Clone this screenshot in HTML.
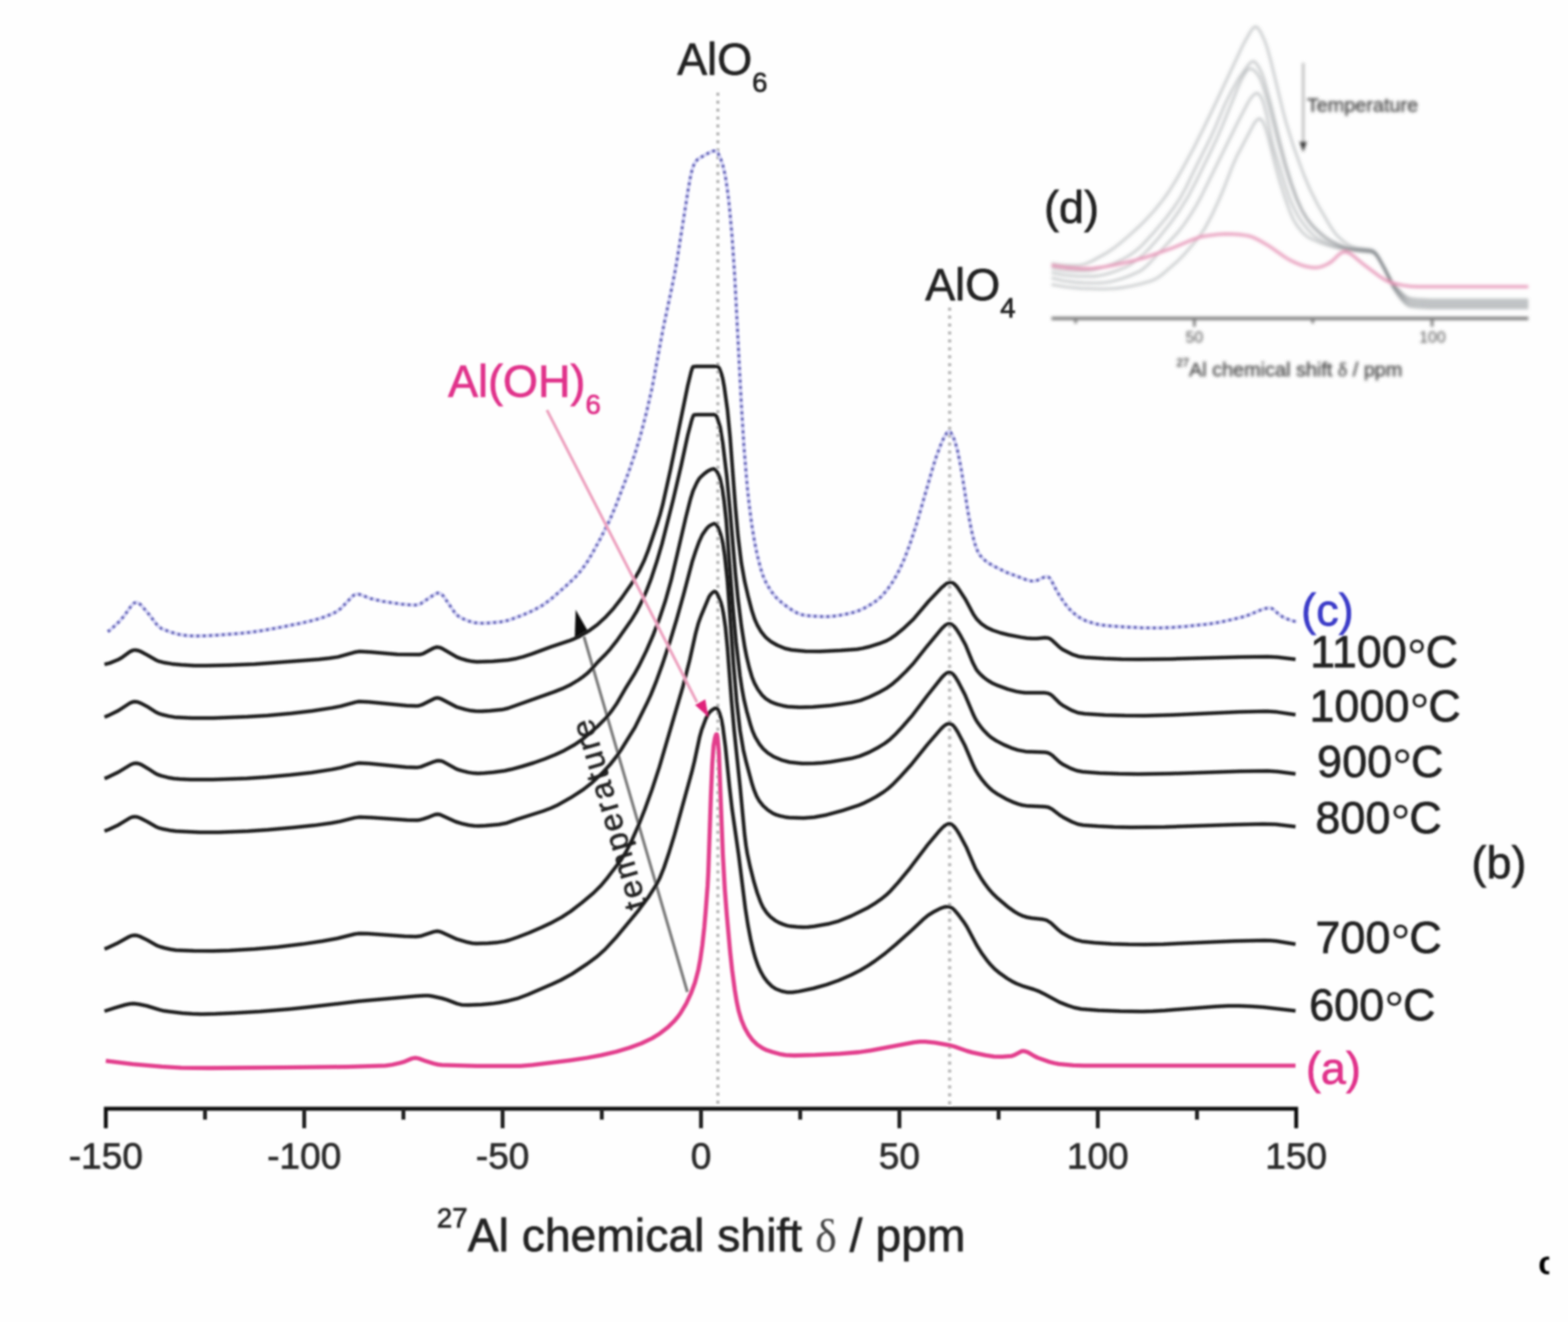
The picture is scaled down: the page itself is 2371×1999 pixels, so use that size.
<!DOCTYPE html>
<html lang="en"><head><meta charset="utf-8"><title>27Al MAS NMR spectra</title>
<style>
html,body{margin:0;padding:0;background:#fefefe;}
body{width:2371px;height:1999px;overflow:hidden;}
svg{display:block;font-family:'Liberation Sans', Arial, sans-serif;}
.blk{fill:none;stroke:#1c1c1c;stroke-width:5.5;stroke-linejoin:round;stroke-linecap:butt;}
.pnk{fill:none;stroke:#e23c8c;stroke-width:6.3;stroke-linejoin:round;}
.blu{fill:none;stroke:#6e6ebe;stroke-width:4.8;stroke-dasharray:4.7 4.9;stroke-linejoin:round;}
.vdot{fill:none;stroke:#bcbcbc;stroke-width:5;stroke-dasharray:5 7;}
.ig{fill:none;stroke:rgba(95,100,105,0.36);stroke-width:3.6;stroke-linejoin:round;}
.t{fill:#222;stroke:#222;stroke-width:1.0;font-size:68px;}
.tk{fill:#2a2a2a;stroke:#2a2a2a;stroke-width:1.0;font-size:56px;text-anchor:middle;}
</style></head><body>
<svg width="2371" height="1999" viewBox="0 0 2371 1999">
<defs><filter id="soft" x="-2%" y="-2%" width="104%" height="104%"><feGaussianBlur stdDeviation="1.6"/></filter>
<filter id="soft2" x="-2%" y="-2%" width="104%" height="104%"><feGaussianBlur stdDeviation="2.4"/></filter></defs>
<rect width="2371" height="1999" fill="#fefefe"/>
<g filter="url(#soft)">
<path class="vdot" d="M1085.5,140 V1670"/>
<path class="vdot" d="M1436,465 V1670"/>
<path d="M162.7,955.0 L165.7,953.3 L168.7,950.8 L180.7,939.4 L187.7,931.4 L198.7,915.7 L202.7,912.0 L205.7,910.9 L207.7,911.1 L209.7,912.0 L213.7,915.4 L224.7,928.3 L236.7,943.9 L240.7,948.0 L244.7,950.8 L256.7,955.4 L270.7,959.3 L282.7,961.2 L295.7,961.8 L313.7,961.3 L333.7,960.1 L364.7,957.6 L382.7,955.5 L400.7,952.8 L421.7,949.0 L455.7,942.2 L472.8,938.2 L483.8,935.1 L493.8,931.6 L503.8,927.5 L509.8,924.4 L515.8,919.6 L532.8,901.8 L535.8,899.6 L538.8,898.6 L541.8,898.6 L544.8,899.2 L560.8,905.2 L578.8,909.4 L607.8,913.6 L618.8,914.6 L627.8,914.9 L631.8,914.4 L635.8,913.0 L657.8,898.3 L661.8,896.7 L664.8,896.9 L667.8,898.6 L670.8,901.8 L686.8,925.1 L689.8,928.8 L692.8,931.5 L699.8,935.5 L709.8,939.5 L717.8,941.6 L725.8,942.4 L738.8,942.1 L754.8,940.6 L762.8,939.4 L770.8,937.3 L790.8,929.9 L806.8,922.8 L819.8,915.6 L831.8,907.0 L855.8,886.1 L869.8,872.8 L879.8,861.4 L888.8,848.3 L896.8,834.6 L908.8,812.6 L921.8,786.8 L930.8,765.7 L949.8,716.0 L959.8,687.1 L968.8,657.2 L977.8,622.7 L985.8,587.5 L1002.8,496.4 L1015.8,435.4 L1020.8,410.1 L1024.8,386.9 L1040.8,285.5 L1043.8,268.7 L1046.8,255.7 L1049.8,247.6 L1051.8,244.4 L1054.8,241.2 L1059.8,237.8 L1071.9,231.2 L1076.9,228.9 L1079.9,228.2 L1082.9,228.9 L1085.9,232.0 L1089.9,240.5 L1092.9,249.6 L1095.9,262.1 L1097.9,273.0 L1100.9,294.4 L1102.9,312.1 L1106.9,356.7 L1110.9,416.0 L1120.9,609.4 L1124.9,675.2 L1129.9,735.8 L1132.9,763.7 L1136.9,794.3 L1140.9,818.8 L1144.9,838.6 L1149.9,858.6 L1153.9,871.0 L1158.9,882.2 L1165.9,893.8 L1173.9,903.8 L1181.9,911.1 L1190.9,918.0 L1198.9,923.3 L1205.9,927.1 L1212.9,929.6 L1218.9,930.8 L1231.9,931.8 L1245.9,932.4 L1255.9,932.2 L1265.9,931.1 L1277.9,928.9 L1289.9,926.2 L1298.9,923.2 L1307.9,919.1 L1317.9,913.4 L1326.9,907.2 L1332.9,901.8 L1341.9,891.3 L1350.9,878.3 L1359.9,861.9 L1367.9,844.2 L1375.9,822.8 L1385.9,792.4 L1410.9,705.9 L1415.9,690.1 L1422.9,671.7 L1427.9,660.5 L1431.9,654.4 L1433.9,653.0 L1434.9,652.8 L1436.9,653.5 L1437.9,654.4 L1440.9,659.5 L1443.9,667.3 L1447.9,681.3 L1452.9,706.1 L1463.9,775.3 L1468.9,801.6 L1472.9,818.0 L1475.9,827.7 L1478.9,834.7 L1481.9,839.6 L1485.9,844.2 L1490.9,848.6 L1495.9,852.1 L1502.9,856.1 L1521.9,865.4 L1551.9,876.7 L1558.9,878.4 L1563.9,878.7 L1568.9,877.5 L1577.9,873.1 L1580.9,872.0 L1583.9,872.0 L1585.9,872.9 L1587.9,874.9 L1589.9,877.9 L1596.9,891.6 L1601.9,900.2 L1607.9,909.4 L1612.9,916.2 L1617.9,921.8 L1623.9,927.4 L1629.9,932.2 L1635.9,936.0 L1642.9,939.1 L1653.9,942.6 L1663.0,944.7 L1673.0,946.0 L1701.0,948.1 L1727.0,949.3 L1751.0,949.6 L1772.0,948.8 L1794.0,947.1 L1823.0,944.1 L1835.0,942.5 L1848.0,940.1 L1864.0,936.6 L1882.0,932.1 L1889.0,929.6 L1908.0,921.7 L1914.0,920.0 L1919.0,919.3 L1922.0,919.7 L1925.0,921.1 L1935.0,929.9 L1941.0,933.7 L1952.0,938.1 L1957.0,939.4 L1961.0,939.9" fill="none" stroke="#d6d6f7" stroke-width="5.5"/>
<path class="blu" d="M162.7,955.0 L165.7,953.3 L168.7,950.8 L180.7,939.4 L187.7,931.4 L198.7,915.7 L202.7,912.0 L205.7,910.9 L207.7,911.1 L209.7,912.0 L213.7,915.4 L224.7,928.3 L236.7,943.9 L240.7,948.0 L244.7,950.8 L256.7,955.4 L270.7,959.3 L282.7,961.2 L295.7,961.8 L313.7,961.3 L333.7,960.1 L364.7,957.6 L382.7,955.5 L400.7,952.8 L421.7,949.0 L455.7,942.2 L472.8,938.2 L483.8,935.1 L493.8,931.6 L503.8,927.5 L509.8,924.4 L515.8,919.6 L532.8,901.8 L535.8,899.6 L538.8,898.6 L541.8,898.6 L544.8,899.2 L560.8,905.2 L578.8,909.4 L607.8,913.6 L618.8,914.6 L627.8,914.9 L631.8,914.4 L635.8,913.0 L657.8,898.3 L661.8,896.7 L664.8,896.9 L667.8,898.6 L670.8,901.8 L686.8,925.1 L689.8,928.8 L692.8,931.5 L699.8,935.5 L709.8,939.5 L717.8,941.6 L725.8,942.4 L738.8,942.1 L754.8,940.6 L762.8,939.4 L770.8,937.3 L790.8,929.9 L806.8,922.8 L819.8,915.6 L831.8,907.0 L855.8,886.1 L869.8,872.8 L879.8,861.4 L888.8,848.3 L896.8,834.6 L908.8,812.6 L921.8,786.8 L930.8,765.7 L949.8,716.0 L959.8,687.1 L968.8,657.2 L977.8,622.7 L985.8,587.5 L1002.8,496.4 L1015.8,435.4 L1020.8,410.1 L1024.8,386.9 L1040.8,285.5 L1043.8,268.7 L1046.8,255.7 L1049.8,247.6 L1051.8,244.4 L1054.8,241.2 L1059.8,237.8 L1071.9,231.2 L1076.9,228.9 L1079.9,228.2 L1082.9,228.9 L1085.9,232.0 L1089.9,240.5 L1092.9,249.6 L1095.9,262.1 L1097.9,273.0 L1100.9,294.4 L1102.9,312.1 L1106.9,356.7 L1110.9,416.0 L1120.9,609.4 L1124.9,675.2 L1129.9,735.8 L1132.9,763.7 L1136.9,794.3 L1140.9,818.8 L1144.9,838.6 L1149.9,858.6 L1153.9,871.0 L1158.9,882.2 L1165.9,893.8 L1173.9,903.8 L1181.9,911.1 L1190.9,918.0 L1198.9,923.3 L1205.9,927.1 L1212.9,929.6 L1218.9,930.8 L1231.9,931.8 L1245.9,932.4 L1255.9,932.2 L1265.9,931.1 L1277.9,928.9 L1289.9,926.2 L1298.9,923.2 L1307.9,919.1 L1317.9,913.4 L1326.9,907.2 L1332.9,901.8 L1341.9,891.3 L1350.9,878.3 L1359.9,861.9 L1367.9,844.2 L1375.9,822.8 L1385.9,792.4 L1410.9,705.9 L1415.9,690.1 L1422.9,671.7 L1427.9,660.5 L1431.9,654.4 L1433.9,653.0 L1434.9,652.8 L1436.9,653.5 L1437.9,654.4 L1440.9,659.5 L1443.9,667.3 L1447.9,681.3 L1452.9,706.1 L1463.9,775.3 L1468.9,801.6 L1472.9,818.0 L1475.9,827.7 L1478.9,834.7 L1481.9,839.6 L1485.9,844.2 L1490.9,848.6 L1495.9,852.1 L1502.9,856.1 L1521.9,865.4 L1551.9,876.7 L1558.9,878.4 L1563.9,878.7 L1568.9,877.5 L1577.9,873.1 L1580.9,872.0 L1583.9,872.0 L1585.9,872.9 L1587.9,874.9 L1589.9,877.9 L1596.9,891.6 L1601.9,900.2 L1607.9,909.4 L1612.9,916.2 L1617.9,921.8 L1623.9,927.4 L1629.9,932.2 L1635.9,936.0 L1642.9,939.1 L1653.9,942.6 L1663.0,944.7 L1673.0,946.0 L1701.0,948.1 L1727.0,949.3 L1751.0,949.6 L1772.0,948.8 L1794.0,947.1 L1823.0,944.1 L1835.0,942.5 L1848.0,940.1 L1864.0,936.6 L1882.0,932.1 L1889.0,929.6 L1908.0,921.7 L1914.0,920.0 L1919.0,919.3 L1922.0,919.7 L1925.0,921.1 L1935.0,929.9 L1941.0,933.7 L1952.0,938.1 L1957.0,939.4 L1961.0,939.9"/>
<path d="M1039.4,1500 L883,962.6" stroke="#7c7c7c" stroke-width="4.5" fill="none"/>
<path d="M870.5,922 L869,967.5 L881,962 L890.5,957 Z" fill="#0c0c0c"/>
<text transform="translate(978.5,1370) rotate(-106.3)" font-size="49" letter-spacing="3.3" fill="#222" stroke="#222" stroke-width="0.8">temperature</text>
<path class="blk" d="M158.0,1004.7 L166.0,1002.6 L178.0,997.8 L184.0,994.5 L197.0,985.1 L201.0,983.4 L204.0,982.9 L208.0,983.4 L212.0,984.8 L223.0,990.6 L236.0,998.2 L241.0,1000.2 L247.0,1001.7 L260.0,1003.9 L274.0,1005.3 L294.0,1006.5 L312.0,1006.5 L346.0,1005.8 L385.0,1004.3 L482.0,996.9 L498.0,995.2 L511.0,993.4 L536.0,986.3 L543.0,985.1 L561.0,985.9 L601.0,989.6 L634.0,989.7 L637.0,989.2 L640.0,988.3 L656.0,979.8 L659.0,978.8 L661.0,978.5 L665.0,979.1 L669.0,980.8 L691.0,993.6 L697.0,995.9 L706.0,998.5 L714.0,1000.1 L721.0,1000.7 L745.0,1000.0 L768.0,998.0 L781.0,995.7 L791.0,993.1 L804.0,988.9 L833.0,978.2 L860.0,969.2 L868.0,966.1 L876.0,962.4 L890.0,954.2 L903.0,944.7 L915.0,933.8 L927.0,920.9 L940.0,904.2 L956.0,881.2 L966.0,864.2 L974.0,847.8 L980.0,832.6 L994.0,791.3 L998.0,778.3 L1002.0,763.3 L1014.0,709.5 L1040.0,582.9 L1045.0,562.4 L1047.0,556.1 L1048.0,554.5 L1053.0,554.0 L1085.0,554.1 L1086.0,554.5 L1088.0,557.5 L1091.0,565.5 L1093.0,573.3 L1095.0,583.9 L1100.0,619.8 L1104.0,661.2 L1112.0,766.8 L1116.0,810.9 L1121.0,851.3 L1126.0,879.2 L1131.0,900.7 L1137.0,923.7 L1141.0,935.8 L1145.0,945.0 L1151.0,955.3 L1157.0,962.7 L1161.0,966.4 L1166.0,970.3 L1175.0,975.5 L1187.0,980.5 L1197.0,982.8 L1218.0,984.8 L1240.0,984.9 L1271.0,983.6 L1296.0,981.7 L1304.0,980.4 L1313.0,978.3 L1332.0,972.3 L1340.0,969.1 L1347.0,965.3 L1355.0,959.7 L1365.0,951.4 L1381.0,936.5 L1404.0,909.4 L1424.0,888.3 L1431.0,882.7 L1434.0,881.2 L1437.0,880.6 L1440.0,881.1 L1443.0,882.9 L1446.0,885.8 L1449.0,889.7 L1460.0,906.5 L1472.0,929.0 L1477.0,936.3 L1484.0,943.2 L1492.0,948.8 L1501.0,953.0 L1513.0,957.0 L1525.0,960.0 L1544.0,963.6 L1553.0,965.0 L1561.0,965.6 L1568.0,965.4 L1580.0,964.2 L1585.0,964.8 L1588.0,966.1 L1591.0,968.2 L1602.0,978.6 L1607.0,982.3 L1621.0,989.3 L1631.0,992.7 L1641.0,994.0 L1670.0,995.8 L1696.0,996.7 L1722.0,997.0 L1771.0,996.4 L1876.0,993.4 L1917.0,993.0 L1932.0,993.8 L1959.0,996.9"/>
<path class="blk" d="M158.0,1084.2 L164.0,1081.9 L179.0,1074.5 L197.0,1062.8 L201.0,1061.3 L204.0,1061.0 L208.0,1061.5 L213.0,1063.3 L224.0,1069.2 L236.0,1077.0 L240.0,1078.8 L245.0,1080.5 L255.0,1082.9 L264.0,1084.4 L290.0,1085.8 L323.0,1085.7 L374.0,1083.8 L404.0,1081.9 L440.0,1078.7 L472.0,1075.0 L502.0,1070.4 L515.0,1067.9 L538.0,1061.6 L543.0,1060.8 L558.0,1061.4 L615.0,1067.1 L630.0,1067.6 L634.0,1067.0 L638.0,1065.7 L656.0,1056.7 L659.0,1055.6 L661.0,1055.3 L664.0,1055.7 L667.0,1056.8 L690.0,1068.8 L704.0,1072.9 L712.0,1074.6 L719.0,1075.3 L728.0,1075.4 L741.0,1074.8 L759.0,1073.1 L768.0,1071.0 L838.0,1046.1 L850.0,1041.4 L861.0,1036.3 L875.0,1028.0 L882.0,1023.0 L888.0,1018.2 L893.0,1013.3 L904.0,1001.0 L916.0,989.0 L922.0,982.4 L933.0,968.5 L955.0,937.1 L963.0,924.0 L970.0,910.3 L978.0,892.3 L985.0,873.9 L993.0,849.7 L1001.0,822.5 L1018.0,755.4 L1030.0,704.0 L1040.0,657.9 L1046.0,635.1 L1048.0,629.4 L1049.0,627.7 L1050.0,627.2 L1055.0,627.0 L1080.0,627.0 L1082.0,627.5 L1083.0,628.7 L1085.0,633.0 L1089.0,646.0 L1093.0,670.4 L1099.0,720.3 L1104.0,773.0 L1112.0,867.1 L1116.0,906.2 L1121.0,946.0 L1126.0,977.9 L1129.0,993.2 L1133.0,1009.9 L1137.0,1023.4 L1141.0,1033.4 L1146.0,1042.5 L1152.0,1050.7 L1158.0,1056.5 L1165.0,1060.9 L1170.0,1063.1 L1176.0,1065.1 L1184.0,1067.2 L1191.0,1068.5 L1209.0,1069.4 L1229.0,1069.1 L1256.0,1066.8 L1288.0,1062.1 L1301.0,1059.1 L1315.0,1053.8 L1328.0,1047.6 L1340.0,1040.9 L1348.0,1035.3 L1357.0,1027.7 L1370.0,1015.1 L1381.0,1003.4 L1402.0,976.9 L1424.0,950.5 L1428.0,946.6 L1431.0,944.5 L1434.0,943.3 L1436.0,943.2 L1439.0,944.1 L1443.0,947.3 L1447.0,952.5 L1452.0,960.5 L1460.0,975.3 L1471.0,1002.1 L1476.0,1011.8 L1479.0,1015.9 L1483.0,1020.1 L1488.0,1024.6 L1493.0,1028.4 L1500.0,1032.7 L1509.0,1036.7 L1524.0,1042.1 L1537.0,1045.6 L1544.0,1046.8 L1550.0,1047.4 L1580.0,1047.6 L1585.0,1048.4 L1588.0,1049.7 L1591.0,1051.9 L1602.0,1062.8 L1607.0,1066.7 L1620.0,1073.9 L1630.0,1077.8 L1640.0,1079.3 L1671.0,1081.2 L1701.0,1082.1 L1731.0,1082.3 L1775.0,1081.1 L1873.0,1076.4 L1915.0,1075.5 L1931.0,1076.6 L1959.0,1080.8"/>
<path class="blk" d="M158.0,1177.1 L163.0,1175.3 L179.0,1167.5 L198.0,1156.0 L202.0,1154.5 L206.0,1154.0 L210.0,1154.7 L214.0,1156.4 L224.0,1162.3 L235.0,1169.5 L239.0,1171.4 L244.0,1173.2 L254.0,1175.7 L263.0,1177.3 L272.0,1178.1 L288.0,1178.8 L322.0,1178.8 L373.0,1176.9 L403.0,1175.0 L439.0,1171.8 L471.0,1168.2 L501.0,1163.6 L515.0,1160.9 L538.0,1154.6 L543.0,1153.8 L558.0,1154.4 L614.0,1160.1 L630.0,1160.6 L636.0,1159.6 L656.0,1151.8 L660.0,1150.6 L663.0,1150.2 L666.0,1150.4 L670.0,1151.7 L689.0,1162.2 L693.0,1163.9 L699.0,1165.7 L708.0,1167.9 L716.0,1169.1 L723.0,1169.5 L732.0,1169.1 L746.0,1167.8 L763.0,1165.5 L773.0,1163.3 L789.0,1159.0 L807.0,1153.5 L824.0,1147.5 L840.0,1141.0 L853.0,1134.9 L869.0,1126.0 L882.0,1116.9 L903.0,1099.0 L916.0,1085.9 L925.0,1074.8 L933.0,1063.2 L945.0,1042.3 L959.0,1019.8 L966.0,1007.2 L977.0,984.9 L987.0,961.9 L997.0,935.8 L1006.0,908.9 L1015.0,876.8 L1037.0,782.5 L1044.0,754.8 L1048.0,742.1 L1054.0,729.2 L1057.0,724.3 L1059.0,721.8 L1065.0,716.3 L1070.0,712.5 L1075.0,709.9 L1079.0,709.0 L1081.0,709.5 L1084.0,713.0 L1087.0,719.0 L1089.0,724.2 L1092.0,738.1 L1095.0,758.2 L1098.0,785.6 L1108.0,915.5 L1113.0,970.7 L1119.0,1021.8 L1122.0,1041.8 L1125.0,1057.9 L1129.0,1074.9 L1135.0,1096.4 L1138.0,1105.5 L1142.0,1114.7 L1148.0,1124.7 L1154.0,1132.2 L1161.0,1138.5 L1170.0,1144.3 L1183.0,1149.7 L1194.0,1152.5 L1213.0,1154.4 L1231.0,1154.3 L1243.0,1153.5 L1256.0,1152.0 L1287.0,1146.8 L1300.0,1143.4 L1314.0,1137.6 L1326.0,1131.3 L1338.0,1124.0 L1345.0,1118.7 L1353.0,1111.3 L1364.0,1099.6 L1380.0,1081.2 L1402.0,1052.1 L1424.0,1024.5 L1428.0,1020.4 L1431.0,1018.1 L1434.0,1016.9 L1436.0,1016.8 L1439.0,1017.8 L1442.0,1020.4 L1445.0,1024.3 L1449.0,1031.0 L1459.0,1050.3 L1472.0,1081.0 L1475.0,1087.1 L1478.0,1092.1 L1483.0,1098.9 L1488.0,1104.9 L1494.0,1111.0 L1499.0,1115.3 L1506.0,1119.9 L1518.0,1126.1 L1529.0,1130.8 L1539.0,1134.1 L1551.0,1136.4 L1580.0,1137.6 L1583.0,1138.0 L1586.0,1138.9 L1591.0,1142.0 L1602.0,1152.2 L1607.0,1155.8 L1619.0,1161.9 L1628.0,1165.3 L1637.0,1167.0 L1663.0,1168.9 L1692.0,1170.1 L1721.0,1170.5 L1770.0,1169.8 L1876.0,1166.2 L1917.0,1165.7 L1932.0,1166.7 L1959.0,1170.3"/>
<path class="blk" d="M158.0,1256.7 L164.0,1254.5 L179.0,1247.4 L197.0,1236.5 L201.0,1235.2 L204.0,1234.9 L208.0,1235.5 L212.0,1237.0 L223.0,1242.6 L236.0,1250.2 L240.0,1251.8 L245.0,1253.2 L256.0,1255.4 L266.0,1256.7 L302.0,1258.5 L331.0,1258.5 L375.0,1256.8 L405.0,1254.8 L444.0,1251.3 L475.0,1248.1 L501.0,1244.5 L514.0,1242.1 L536.0,1236.6 L543.0,1235.6 L562.0,1236.2 L616.0,1240.0 L631.0,1240.2 L635.0,1239.7 L640.0,1238.4 L649.0,1235.3 L657.0,1232.0 L661.0,1231.2 L664.0,1231.4 L667.0,1232.4 L689.0,1242.5 L700.0,1245.8 L709.0,1247.7 L717.0,1248.7 L724.0,1249.0 L734.0,1248.6 L754.0,1246.8 L765.0,1244.8 L782.0,1238.9 L821.0,1226.5 L833.0,1222.0 L844.0,1216.9 L863.0,1206.2 L882.0,1193.9 L896.0,1182.8 L910.0,1169.6 L922.0,1156.7 L933.0,1142.8 L939.0,1134.0 L960.0,1100.0 L979.0,1061.7 L984.0,1050.9 L992.0,1031.1 L1002.0,1003.5 L1013.0,970.2 L1023.0,937.1 L1034.0,897.8 L1047.0,848.3 L1052.0,833.1 L1057.0,819.4 L1062.0,808.6 L1069.0,798.7 L1072.0,795.8 L1074.0,794.4 L1078.0,792.4 L1081.0,791.8 L1083.0,793.0 L1085.0,796.0 L1087.0,800.4 L1090.0,809.0 L1093.0,821.2 L1096.0,840.9 L1100.0,879.0 L1109.0,1003.1 L1114.0,1061.0 L1119.0,1104.4 L1124.0,1133.8 L1128.0,1151.0 L1137.0,1184.6 L1140.0,1194.0 L1144.0,1203.9 L1148.0,1211.0 L1154.0,1218.5 L1161.0,1224.7 L1169.0,1230.0 L1174.0,1232.1 L1180.0,1233.9 L1187.0,1235.4 L1193.0,1236.2 L1215.0,1237.0 L1231.0,1235.8 L1250.0,1232.2 L1274.0,1225.6 L1297.0,1218.2 L1305.0,1214.9 L1314.0,1210.6 L1325.0,1204.6 L1336.0,1197.6 L1343.0,1192.4 L1351.0,1185.2 L1361.0,1174.9 L1378.0,1156.1 L1402.0,1126.2 L1423.0,1102.0 L1427.0,1098.1 L1430.0,1095.9 L1433.0,1094.5 L1435.0,1094.1 L1438.0,1094.7 L1441.0,1096.8 L1444.0,1100.2 L1448.0,1106.5 L1459.0,1127.3 L1472.0,1157.8 L1475.0,1164.0 L1479.0,1170.7 L1484.0,1177.7 L1490.0,1185.1 L1496.0,1191.4 L1501.0,1195.8 L1509.0,1201.2 L1521.0,1207.9 L1531.0,1212.6 L1540.0,1215.9 L1546.0,1217.5 L1552.0,1218.4 L1579.0,1219.8 L1583.0,1220.2 L1586.0,1221.0 L1591.0,1223.6 L1602.0,1232.1 L1608.0,1236.0 L1621.0,1242.8 L1630.0,1246.3 L1638.0,1247.7 L1660.0,1249.3 L1685.0,1250.4 L1710.0,1250.9 L1761.0,1250.5 L1865.0,1246.9 L1910.0,1246.0 L1929.0,1246.6 L1959.0,1249.9"/>
<path class="blk" d="M158.0,1434.9 L163.0,1433.1 L179.0,1425.4 L195.0,1416.5 L199.0,1414.9 L203.0,1414.2 L207.0,1414.6 L212.0,1416.2 L223.0,1421.6 L237.0,1429.6 L242.0,1431.5 L249.0,1433.5 L258.0,1435.5 L266.0,1436.7 L293.0,1437.7 L322.0,1438.0 L347.0,1437.2 L385.0,1435.0 L420.0,1431.9 L457.0,1427.6 L488.0,1423.0 L510.0,1419.0 L536.0,1412.5 L542.0,1411.6 L556.0,1411.8 L612.0,1415.7 L629.0,1416.2 L637.0,1415.2 L656.0,1408.9 L661.0,1408.0 L664.0,1408.4 L667.0,1409.3 L691.0,1420.2 L707.0,1424.8 L714.0,1426.2 L720.0,1426.8 L738.0,1426.3 L753.0,1424.9 L763.0,1423.4 L770.0,1421.5 L783.0,1417.0 L800.0,1410.5 L819.0,1402.3 L835.0,1394.7 L849.0,1387.1 L863.0,1378.0 L880.0,1364.8 L897.0,1350.6 L909.0,1338.7 L919.0,1326.7 L939.0,1300.4 L947.0,1287.4 L955.0,1271.6 L965.0,1249.2 L975.0,1224.0 L986.0,1193.6 L997.0,1160.0 L1033.0,1036.9 L1043.0,997.6 L1052.0,957.2 L1056.0,942.4 L1060.0,931.4 L1072.0,902.8 L1074.0,899.6 L1077.0,896.4 L1079.0,894.9 L1081.0,894.3 L1083.0,895.5 L1085.0,898.6 L1090.0,910.8 L1092.0,918.2 L1094.0,928.1 L1097.0,948.4 L1100.0,979.4 L1106.0,1058.3 L1110.0,1103.2 L1119.0,1188.5 L1126.0,1262.4 L1128.0,1278.4 L1130.0,1290.7 L1134.0,1309.5 L1140.0,1333.3 L1145.0,1350.1 L1150.0,1363.8 L1154.0,1372.3 L1159.0,1379.8 L1165.0,1386.4 L1172.0,1391.8 L1178.0,1395.1 L1184.0,1397.6 L1190.0,1399.6 L1195.0,1400.6 L1205.0,1401.6 L1214.0,1402.0 L1222.0,1401.7 L1231.0,1400.7 L1254.0,1396.7 L1268.0,1392.8 L1287.0,1385.1 L1311.0,1373.3 L1322.0,1366.7 L1332.0,1359.8 L1340.0,1353.4 L1347.0,1346.7 L1358.0,1334.5 L1376.0,1312.7 L1402.0,1278.3 L1421.0,1255.8 L1425.0,1251.5 L1429.0,1248.1 L1433.0,1246.1 L1436.0,1245.7 L1439.0,1246.6 L1443.0,1250.0 L1447.0,1255.4 L1451.0,1262.0 L1461.0,1280.7 L1475.0,1313.3 L1483.0,1327.2 L1489.0,1336.1 L1495.0,1344.1 L1501.0,1351.0 L1507.0,1356.8 L1525.0,1372.1 L1533.0,1377.8 L1540.0,1382.0 L1547.0,1385.2 L1553.0,1387.0 L1560.0,1388.2 L1576.0,1389.9 L1583.0,1391.7 L1589.0,1395.5 L1601.0,1406.7 L1606.0,1410.6 L1617.0,1416.8 L1627.0,1421.2 L1636.0,1423.4 L1655.0,1425.4 L1681.0,1427.2 L1707.0,1428.1 L1731.0,1428.3 L1759.0,1427.7 L1866.0,1423.0 L1912.0,1422.0 L1921.0,1422.2 L1930.0,1423.0 L1959.0,1427.8"/>
<path class="blk" d="M158.0,1529.0 L174.0,1523.8 L189.0,1519.5 L196.0,1518.0 L202.0,1517.6 L210.0,1518.5 L222.0,1521.0 L242.0,1527.1 L248.0,1528.6 L276.0,1532.1 L291.0,1533.1 L305.0,1533.4 L326.0,1533.0 L354.0,1531.8 L393.0,1529.6 L439.0,1525.8 L465.0,1523.1 L542.0,1514.1 L629.0,1506.2 L642.0,1505.5 L648.0,1505.6 L653.0,1506.2 L668.0,1509.5 L676.0,1511.9 L691.0,1517.6 L698.0,1519.4 L708.0,1519.8 L728.0,1518.9 L744.0,1517.6 L755.0,1516.0 L769.0,1513.2 L784.0,1509.3 L798.0,1504.0 L835.0,1488.0 L848.0,1482.0 L865.0,1472.6 L888.0,1457.4 L903.0,1446.3 L915.0,1435.5 L931.0,1418.2 L966.0,1375.9 L980.0,1357.2 L992.0,1338.6 L998.0,1326.9 L1004.0,1312.0 L1011.0,1291.2 L1020.0,1262.0 L1046.0,1167.8 L1050.0,1151.6 L1058.0,1114.2 L1061.0,1103.5 L1067.0,1087.6 L1071.0,1079.6 L1073.0,1076.9 L1077.0,1073.4 L1080.0,1071.5 L1083.0,1070.6 L1084.0,1070.7 L1085.0,1071.6 L1088.0,1078.1 L1091.0,1088.3 L1093.0,1099.0 L1097.0,1129.6 L1103.0,1189.0 L1107.0,1223.5 L1117.0,1293.3 L1127.0,1373.4 L1131.0,1399.1 L1135.0,1420.1 L1139.0,1437.4 L1142.0,1448.2 L1146.0,1459.6 L1150.0,1468.7 L1155.0,1477.5 L1160.0,1484.2 L1167.0,1491.3 L1173.0,1495.3 L1182.0,1498.7 L1190.0,1500.4 L1198.0,1500.5 L1208.0,1499.1 L1230.0,1494.5 L1250.0,1488.9 L1268.0,1482.5 L1287.0,1474.2 L1301.0,1467.1 L1311.0,1461.2 L1323.0,1453.1 L1338.0,1442.0 L1354.0,1428.6 L1379.0,1406.3 L1396.0,1390.2 L1404.0,1383.7 L1411.0,1379.3 L1422.0,1373.6 L1428.0,1371.5 L1433.0,1370.9 L1437.0,1371.7 L1440.0,1373.4 L1444.0,1377.0 L1449.0,1382.9 L1457.0,1393.6 L1462.0,1401.2 L1477.0,1429.5 L1485.0,1442.2 L1492.0,1451.7 L1498.0,1458.9 L1504.0,1465.1 L1510.0,1470.2 L1523.0,1479.5 L1530.0,1483.7 L1537.0,1487.2 L1546.0,1490.8 L1563.0,1496.0 L1570.0,1498.6 L1578.0,1502.4 L1602.0,1515.4 L1614.0,1520.1 L1624.0,1523.5 L1635.0,1525.8 L1661.0,1527.7 L1694.0,1529.1 L1727.0,1529.5 L1743.0,1529.0 L1761.0,1528.0 L1838.0,1521.9 L1857.0,1521.1 L1874.0,1521.1 L1892.0,1521.7 L1911.0,1523.0 L1959.0,1528.4"/>
<path class="pnk" d="M160.0,1604.2 L201.0,1609.1 L245.0,1612.9 L274.0,1614.6 L317.0,1615.0 L428.0,1614.2 L525.0,1613.1 L583.0,1611.3 L593.0,1610.0 L605.0,1607.3 L612.0,1605.2 L623.0,1600.5 L628.0,1599.7 L633.0,1600.5 L644.0,1604.6 L656.0,1608.2 L662.0,1609.6 L668.0,1610.4 L721.0,1611.8 L787.0,1611.8 L805.0,1610.4 L862.0,1603.3 L888.0,1599.5 L909.0,1595.6 L932.0,1590.2 L952.0,1584.3 L970.0,1577.6 L986.0,1570.0 L998.0,1562.6 L1010.0,1553.2 L1020.0,1543.4 L1025.0,1537.5 L1029.0,1532.0 L1038.0,1516.8 L1045.0,1501.7 L1051.0,1485.3 L1056.0,1466.2 L1059.0,1450.1 L1062.0,1429.1 L1065.0,1402.1 L1067.0,1378.8 L1070.0,1339.2 L1071.0,1320.1 L1075.0,1202.2 L1077.0,1155.8 L1079.0,1127.9 L1081.0,1116.5 L1082.0,1112.7 L1083.0,1110.4 L1084.0,1110.5 L1085.0,1115.8 L1087.0,1137.2 L1093.0,1292.0 L1096.0,1344.8 L1099.0,1383.2 L1104.0,1438.6 L1107.0,1466.4 L1111.0,1496.4 L1114.0,1514.7 L1117.0,1528.6 L1121.0,1542.0 L1126.0,1554.1 L1132.0,1564.7 L1138.0,1572.8 L1145.0,1579.5 L1153.0,1584.9 L1159.0,1587.8 L1168.0,1590.8 L1179.0,1593.8 L1188.0,1595.4 L1201.0,1596.0 L1233.0,1595.2 L1270.0,1593.3 L1299.0,1591.0 L1317.0,1588.3 L1382.0,1576.2 L1391.0,1575.2 L1399.0,1575.1 L1414.0,1576.6 L1435.0,1580.3 L1444.0,1582.7 L1462.0,1589.1 L1470.0,1591.4 L1490.0,1595.7 L1503.0,1597.6 L1515.0,1597.9 L1529.0,1596.9 L1534.0,1595.3 L1544.0,1589.9 L1546.0,1589.4 L1549.0,1589.4 L1554.0,1591.0 L1564.0,1596.9 L1569.0,1599.4 L1587.0,1605.7 L1594.0,1607.5 L1601.0,1608.8 L1623.0,1610.9 L1639.0,1611.4 L1959.0,1611.4"/>
<path d="M827,620 L1054,1062" stroke="#eda3c0" stroke-width="4.5" fill="none"/>
<path d="M1071,1084 L1051,1066 L1066.5,1057.5 Z" fill="#e0207a"/>
<path d="M160,1706 V1676.5 H1960 V1706" fill="none" stroke="#111" stroke-width="5.8"/>
<path d="M460,1677 V1706 M760,1677 V1706 M1060,1677 V1706 M1360,1677 V1706 M1660,1677 V1706 M310,1677 V1693 M610,1677 V1693 M910,1677 V1693 M1210,1677 V1693 M1510,1677 V1693 M1810,1677 V1693 " fill="none" stroke="#222" stroke-width="6"/>
<text class="tk" x="160" y="1767">-150</text>
<text class="tk" x="460" y="1767">-100</text>
<text class="tk" x="760" y="1767">-50</text>
<text class="tk" x="1060" y="1767">0</text>
<text class="tk" x="1360" y="1767">50</text>
<text class="tk" x="1660" y="1767">100</text>
<text class="tk" x="1960" y="1767">150</text>
<text class="t" x="660.5" y="1892" style="font-size:70px"><tspan style="font-size:42px" dy="-36">27</tspan><tspan dy="36">Al chemical shift </tspan><tspan font-family="'Liberation Serif', serif" style="stroke-width:0;fill:#444">δ</tspan><tspan> / ppm</tspan></text>
<text class="t" x="1024.0" y="113.0" style="fill:#222;stroke:#222">AlO<tspan font-size="42" dy="26">6</tspan></text>
<text class="t" x="1399.0" y="454.0" style="fill:#222;stroke:#222">AlO<tspan font-size="42" dy="26">4</tspan></text>
<text class="t" x="677.5" y="600.0" style="fill:#e0308a;stroke:#e0308a">Al(OH)<tspan font-size="42" dy="26">6</tspan></text>
<text class="t" x="1967.5" y="946.0" style="fill:#3a3ac8;stroke:#3a3ac8">(c)</text>
<text class="t" x="1981.0" y="1009.0" style="fill:#222;stroke:#222">1100<tspan dy="10.5" font-size="76" stroke-width="0">°</tspan><tspan dy="-10.5" dx="-2">C</tspan></text>
<text class="t" x="1980.0" y="1091.0" style="fill:#222;stroke:#222">1000<tspan dy="10.5" font-size="76" stroke-width="0">°</tspan><tspan dy="-10.5" dx="-2">C</tspan></text>
<text class="t" x="1991.6" y="1175.4" style="fill:#222;stroke:#222">900<tspan dy="10.5" font-size="76" stroke-width="0">°</tspan><tspan dy="-10.5" dx="-2">C</tspan></text>
<text class="t" x="1989.0" y="1259.8" style="fill:#222;stroke:#222">800<tspan dy="10.5" font-size="76" stroke-width="0">°</tspan><tspan dy="-10.5" dx="-2">C</tspan></text>
<text class="t" x="2225.0" y="1328.0" style="fill:#222;stroke:#222">(b)</text>
<text class="t" x="1989.0" y="1440.6" style="fill:#222;stroke:#222">700<tspan dy="10.5" font-size="76" stroke-width="0">°</tspan><tspan dy="-10.5" dx="-2">C</tspan></text>
<text class="t" x="1979.5" y="1542.8" style="fill:#222;stroke:#222">600<tspan dy="10.5" font-size="76" stroke-width="0">°</tspan><tspan dy="-10.5" dx="-2">C</tspan></text>
<text class="t" x="1974.7" y="1639.0" style="fill:#e0308a;stroke:#e0308a">(a)</text>
<text class="t" x="1578.7" y="336.5" style="fill:#222;stroke:#222">(d)</text>
<clipPath id="cc"><rect x="2320" y="1880" width="22.5" height="60"/></clipPath><text x="2326" y="1927" font-size="50" font-weight="bold" fill="#000" clip-path="url(#cc)">c</text>
</g>
<g filter="url(#soft2)">
<path class="ig" d="M1590.0,398.2 L1600.0,400.0 L1608.0,400.9 L1619.0,401.4 L1631.0,401.4 L1635.0,400.9 L1640.0,399.6 L1651.0,394.9 L1674.0,382.1 L1683.0,376.1 L1693.0,368.4 L1707.0,356.5 L1723.0,341.9 L1734.0,330.9 L1745.0,318.9 L1757.0,304.2 L1767.0,290.4 L1778.0,272.8 L1791.0,249.9 L1805.0,223.9 L1820.0,193.9 L1837.0,158.6 L1880.0,67.1 L1889.0,51.0 L1893.0,44.6 L1896.0,41.4 L1898.0,40.5 L1899.0,40.5 L1900.0,40.7 L1902.0,42.2 L1906.0,48.0 L1912.0,60.7 L1916.0,71.8 L1922.0,93.5 L1940.0,167.9 L1945.0,186.5 L1957.0,224.7 L1971.0,263.0 L1981.0,286.7 L1993.0,310.4 L2012.0,342.8 L2018.0,351.6 L2023.0,357.4 L2028.0,362.0 L2034.0,366.7 L2039.0,370.1 L2044.0,372.6 L2052.0,374.7 L2072.0,377.1 L2075.0,378.0 L2078.0,379.8 L2081.0,383.0 L2084.0,387.6 L2103.0,422.2 L2108.0,429.8 L2115.0,438.0 L2121.0,444.1 L2126.0,448.0 L2131.0,450.4 L2135.0,451.2 L2143.0,452.0 L2162.0,453.0 L2311.0,453.0"/>
<path class="ig" d="M1590.0,405.3 L1607.0,408.5 L1624.0,409.8 L1644.0,409.8 L1650.0,409.0 L1657.0,407.5 L1667.0,404.5 L1683.0,398.9 L1697.0,392.5 L1706.0,387.2 L1715.0,381.2 L1722.0,375.5 L1729.0,368.8 L1744.0,352.3 L1763.0,329.9 L1775.0,313.9 L1785.0,298.7 L1793.0,284.1 L1808.0,253.1 L1830.0,209.3 L1837.0,193.9 L1852.0,158.3 L1862.0,138.1 L1873.0,118.9 L1886.0,100.2 L1891.0,94.5 L1893.0,93.2 L1895.0,92.8 L1897.0,93.5 L1899.0,95.1 L1903.0,100.6 L1908.0,110.4 L1912.0,121.4 L1922.0,158.2 L1935.0,212.0 L1945.0,250.1 L1953.0,276.5 L1962.0,301.8 L1969.0,317.8 L1976.0,329.5 L1985.0,340.8 L1996.0,351.5 L2004.0,358.0 L2012.0,363.3 L2022.0,368.4 L2032.0,372.5 L2038.0,374.4 L2044.0,375.8 L2051.0,376.7 L2071.0,378.2 L2075.0,379.0 L2078.0,380.6 L2082.0,384.9 L2086.0,391.3 L2094.0,405.6 L2103.0,423.6 L2108.0,431.7 L2115.0,440.5 L2121.0,447.0 L2126.0,451.1 L2131.0,453.6 L2135.0,454.5 L2143.0,455.3 L2162.0,456.3 L2311.0,456.3"/>
<path class="ig" d="M1590.0,412.3 L1609.0,416.0 L1628.0,417.7 L1653.0,417.9 L1661.0,417.1 L1669.0,415.5 L1678.0,413.0 L1688.0,409.6 L1700.0,404.9 L1706.0,402.0 L1713.0,397.4 L1721.0,391.3 L1729.0,384.5 L1736.0,377.7 L1751.0,360.9 L1770.0,337.2 L1784.0,317.4 L1797.0,296.5 L1808.0,275.4 L1830.0,230.6 L1840.0,209.4 L1848.0,191.0 L1872.0,132.0 L1877.0,120.8 L1881.0,113.5 L1885.0,107.6 L1888.0,104.6 L1891.0,103.7 L1893.0,104.2 L1896.0,106.1 L1901.0,111.2 L1905.0,117.8 L1909.0,127.9 L1918.0,157.3 L1931.0,208.7 L1942.0,248.8 L1951.0,276.8 L1960.0,300.8 L1968.0,317.6 L1973.0,326.3 L1978.0,334.0 L1982.0,339.3 L1987.0,345.1 L1998.0,355.6 L2005.0,360.9 L2012.0,365.0 L2023.0,370.3 L2033.0,374.1 L2040.0,376.0 L2046.0,377.1 L2072.0,379.4 L2075.0,380.0 L2078.0,381.6 L2082.0,385.9 L2086.0,392.3 L2094.0,406.7 L2104.0,427.1 L2109.0,435.1 L2116.0,444.2 L2122.0,450.8 L2127.0,454.9 L2131.0,456.9 L2135.0,457.8 L2143.0,458.6 L2162.0,459.6 L2311.0,459.6"/>
<path class="ig" d="M1590.0,420.3 L1608.0,424.5 L1626.0,426.9 L1638.0,427.6 L1652.0,428.0 L1663.0,427.9 L1671.0,427.3 L1679.0,426.0 L1688.0,423.8 L1698.0,420.7 L1708.0,417.0 L1723.0,410.4 L1728.0,407.0 L1733.0,402.9 L1741.0,394.9 L1757.0,377.1 L1780.0,352.6 L1790.0,340.0 L1800.0,325.3 L1809.0,310.6 L1816.0,297.7 L1871.0,186.1 L1887.0,155.4 L1891.0,148.9 L1895.0,144.1 L1898.0,141.6 L1901.0,140.8 L1903.0,141.7 L1906.0,145.3 L1909.0,151.4 L1911.0,157.2 L1915.0,172.5 L1923.0,211.1 L1927.0,227.1 L1944.0,282.2 L1951.0,302.3 L1959.0,319.5 L1964.0,328.4 L1968.0,334.5 L1973.0,341.2 L1979.0,348.3 L1984.0,353.5 L1989.0,357.9 L1995.0,361.9 L2004.0,366.2 L2014.0,370.2 L2025.0,373.8 L2035.0,376.2 L2045.0,378.0 L2072.0,380.4 L2075.0,381.0 L2078.0,382.6 L2082.0,386.9 L2087.0,395.0 L2094.0,407.8 L2104.0,428.9 L2109.0,437.2 L2116.0,446.7 L2122.0,453.8 L2127.0,458.1 L2131.0,460.2 L2135.0,461.1 L2142.0,461.8 L2162.0,462.9 L2311.0,462.9"/>
<path class="ig" d="M1590.0,430.2 L1613.0,434.0 L1635.0,436.1 L1668.0,437.0 L1687.0,436.1 L1699.0,434.6 L1711.0,432.4 L1725.0,429.2 L1739.0,425.3 L1744.0,423.4 L1748.0,421.4 L1753.0,418.2 L1759.0,413.7 L1779.0,396.4 L1792.0,383.2 L1810.0,362.1 L1816.0,354.0 L1822.0,344.9 L1832.0,326.4 L1844.0,300.5 L1850.0,286.3 L1864.0,250.2 L1871.0,234.6 L1896.0,187.4 L1900.0,181.9 L1902.0,180.1 L1904.0,179.3 L1906.0,179.8 L1909.0,183.2 L1911.0,187.0 L1914.0,194.8 L1918.0,208.5 L1928.0,248.8 L1935.0,273.9 L1942.0,296.3 L1951.0,321.5 L1956.0,332.5 L1962.0,342.0 L1970.0,351.9 L1977.0,358.0 L1984.0,361.9 L1995.0,366.7 L2006.0,370.6 L2017.0,373.7 L2029.0,376.4 L2043.0,378.7 L2072.0,381.4 L2075.0,382.0 L2078.0,383.6 L2080.0,385.4 L2083.0,389.3 L2089.0,399.5 L2095.0,411.0 L2104.0,430.6 L2110.0,440.7 L2117.0,450.6 L2123.0,457.7 L2128.0,461.9 L2132.0,463.8 L2144.0,465.3 L2162.0,466.2 L2311.0,466.2"/>
<path d="M1590.0,401.3 L1614.0,404.8 L1635.0,406.2 L1653.0,405.8 L1672.0,403.3 L1687.0,400.4 L1714.0,394.2 L1733.0,389.0 L1774.0,374.6 L1803.0,362.3 L1815.0,358.3 L1825.0,356.5 L1841.0,354.5 L1853.0,353.8 L1864.0,353.9 L1875.0,354.8 L1885.0,356.1 L1891.0,357.5 L1896.0,359.4 L1904.0,363.3 L1920.0,372.6 L1942.0,388.1 L1951.0,393.6 L1959.0,397.4 L1967.0,400.6 L1974.0,402.7 L1981.0,404.0 L1987.0,404.7 L1992.0,404.6 L1996.0,403.9 L2001.0,402.2 L2008.0,399.0 L2013.0,395.8 L2017.0,392.4 L2024.0,385.4 L2028.0,382.3 L2032.0,380.9 L2034.0,380.9 L2037.0,381.5 L2041.0,383.3 L2046.0,386.6 L2063.0,400.7 L2085.0,417.1 L2093.0,422.5 L2099.0,425.6 L2104.0,427.5 L2121.0,431.4 L2133.0,433.0 L2144.0,433.6 L2311.0,433.6" fill="none" stroke="#e58fb3" stroke-width="4"/>
<path d="M1590,481.5 H2311" stroke="#6e6e6e" stroke-width="4.5" fill="none"/>
<path d="M1626.5,481 V489 M1806,481 V494 M1985,481 V489 M2165.5,481 V494" stroke="#777" stroke-width="4" fill="none"/>
<text x="1806" y="518" font-size="24" text-anchor="middle" fill="#505050">50</text>
<text x="2166" y="518" font-size="24" text-anchor="middle" fill="#505050">100</text>
<text x="1779" y="569" font-size="30" fill="#444" stroke="#444" stroke-width="0.5"><tspan font-size="17" dy="-15">27</tspan><tspan dy="15" font-size="30">Al chemical shift </tspan><tspan font-family="'Liberation Serif', serif">δ</tspan> / ppm</text>
<text x="1976" y="169" font-size="30" fill="#444" stroke="#444" stroke-width="0.5">Temperature</text>
<path d="M1970.6,95 V218" stroke="#b5b5b5" stroke-width="3.5" fill="none"/>
<path d="M1965,214 L1976,214 L1970.6,230 Z" fill="#333"/>
</g>
</svg></body></html>
